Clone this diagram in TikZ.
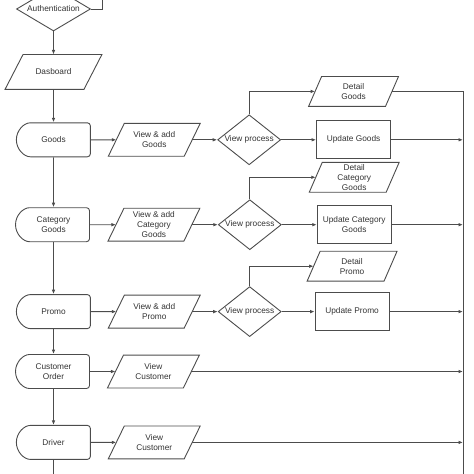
\documentclass[tikz,border=0pt]{standalone}
\usepackage{fontspec}
\setmainfont{Liberation Sans}
\usetikzlibrary{shapes.geometric, shapes.misc, arrows.meta, positioning, calc}

\begin{document}
\begin{tikzpicture}[x=1pt, y=-1pt, >={Latex[length=4.5pt,width=3.6pt]}, line width=0.9pt, font=\fontsize{8.3}{10}\selectfont]
    \tikzset{
        base/.style={draw=black!70, text=black!80, align=center, inner sep=0pt},
        decision/.style={base, diamond, aspect=1.26, minimum width=63pt, minimum height=50pt},
        menu/.style={base, rounded rectangle, rounded rectangle right arc=none, rounded corners=3pt, minimum width=74pt, minimum height=34pt},
        slanted/.style={base, draw=none, rectangle,
            append after command={\pgfextra{\draw[draw=black!70, line width=0.9pt]
                ([xshift=-#1/2]\tikzlastnode.south west) -- ([xshift=#1/2]\tikzlastnode.north west)
                -- ([xshift=#1/2]\tikzlastnode.north east) -- ([xshift=-#1/2]\tikzlastnode.south east) -- cycle;}}},
        io/.style={slanted=16pt, minimum width=75pt, minimum height=32pt},
        detail/.style={slanted=13pt, minimum width=76pt, minimum height=29pt},
        process/.style={base, rectangle, minimum width=74pt, minimum height=38pt},
        line/.style={draw=black!70, ->}
    }
    \useasboundingbox (0,0) rectangle (474,474);
    \clip (0,0) rectangle (474,474);

    % main column
    \node (Auth) [decision, aspect=1.68, minimum width=74pt, minimum height=44pt] at (53.5,9) {Authentication};
    \node (Dash) [slanted=18pt, minimum width=78pt, minimum height=34pt, below=23pt of Auth] {Dasboard};
    \node (Goods) [menu, below=33pt of Dash] {Goods};
    \node (CatGoods) [menu, below=50pt of Goods] {Category\\Goods};
    \node (Promo) [menu, below=52pt of CatGoods] {Promo};
    \node (CustOrder) [menu, below=25pt of Promo] {Customer\\Order};
    \node (Driver) [menu, below=36pt of CustOrder] {Driver};

    % goods row
    \node (ViewGoods) [io, right=25.5pt of Goods] {View \& add\\Goods};
    \node (ProcGoods) [decision, right=25pt of ViewGoods] {View process};
    \node (UpdGoods) [process, right=35pt of ProcGoods] {Update Goods};
    \node (DetGoods) [detail, above=14pt of UpdGoods] {Detail\\Goods};

    % category row
    \node (ViewCat) [io, right=26pt of CatGoods] {View \& add\\Category\\Goods};
    \node (ProcCat) [decision, right=26pt of ViewCat] {View process};
    \node (UpdCat) [process, right=35pt of ProcCat] {Update Category\\Goods};
    \node (DetCat) [detail, above=13pt of UpdCat] {Detail\\Category\\Goods};

    % promo row
    \node (ViewPromo) [io, right=25.5pt of Promo] {View \& add\\Promo};
    \node (ProcPromo) [decision, right=25.5pt of ViewPromo] {View process};
    \node (UpdPromo) [process, right=33pt of ProcPromo] {Update Promo};
    \node (DetPromo) [detail, above=11pt of UpdPromo] {Detail\\Promo};

    % customer rows
    \node (ViewCust) [io, right=25.5pt of CustOrder] {View\\Customer};
    \node (ViewDrv) [io, right=25.5pt of Driver] {View\\Customer};

    \coordinate (LoopEnd) at (102,-10);
    \coordinate (BusEnd) at (463,480);

    \path [line] (Auth) -- (Dash);
    \path [line] (Dash) -- (Goods);
    \path [line] (Goods) -- (CatGoods);
    \path [line] (CatGoods) -- (Promo);
    \path [line] (Promo) -- (CustOrder);
    \path [line] (CustOrder) -- (Driver);
    \path [draw=black!70] (Driver.south) -- (Driver.south |- BusEnd);
    \path [draw=black!70] (Auth.east) -| (LoopEnd);

    \path [line] (Goods) -- (ViewGoods);
    \path [line] (ViewGoods) -- (ProcGoods);
    \path [line] (ProcGoods) -- (UpdGoods);
    \path [line] (ProcGoods.north) |- (DetGoods.west);
    \path [draw=black!70] (DetGoods.east) -| (BusEnd);
    \path [line] (UpdGoods.east) -- (UpdGoods.east -| BusEnd);

    \path [line] (CatGoods) -- (ViewCat);
    \path [line] (ViewCat) -- (ProcCat);
    \path [line] (ProcCat) -- (UpdCat);
    \path [line] (ProcCat.north) |- (DetCat.west);
    \path [line] (UpdCat.east) -- (UpdCat.east -| BusEnd);

    \path [line] (Promo) -- (ViewPromo);
    \path [line] (ViewPromo) -- (ProcPromo);
    \path [line] (ProcPromo) -- (UpdPromo);
    \path [line] (ProcPromo.north) |- (DetPromo.west);
    \path [line] (UpdPromo.east) -- (UpdPromo.east -| BusEnd);

    \path [line] (CustOrder) -- (ViewCust);
    \path [line] (ViewCust.east) -- (ViewCust.east -| BusEnd);
    \path [line] (Driver) -- (ViewDrv);
    \path [line] (ViewDrv.east) -- (ViewDrv.east -| BusEnd);

\end{tikzpicture}
\end{document}
